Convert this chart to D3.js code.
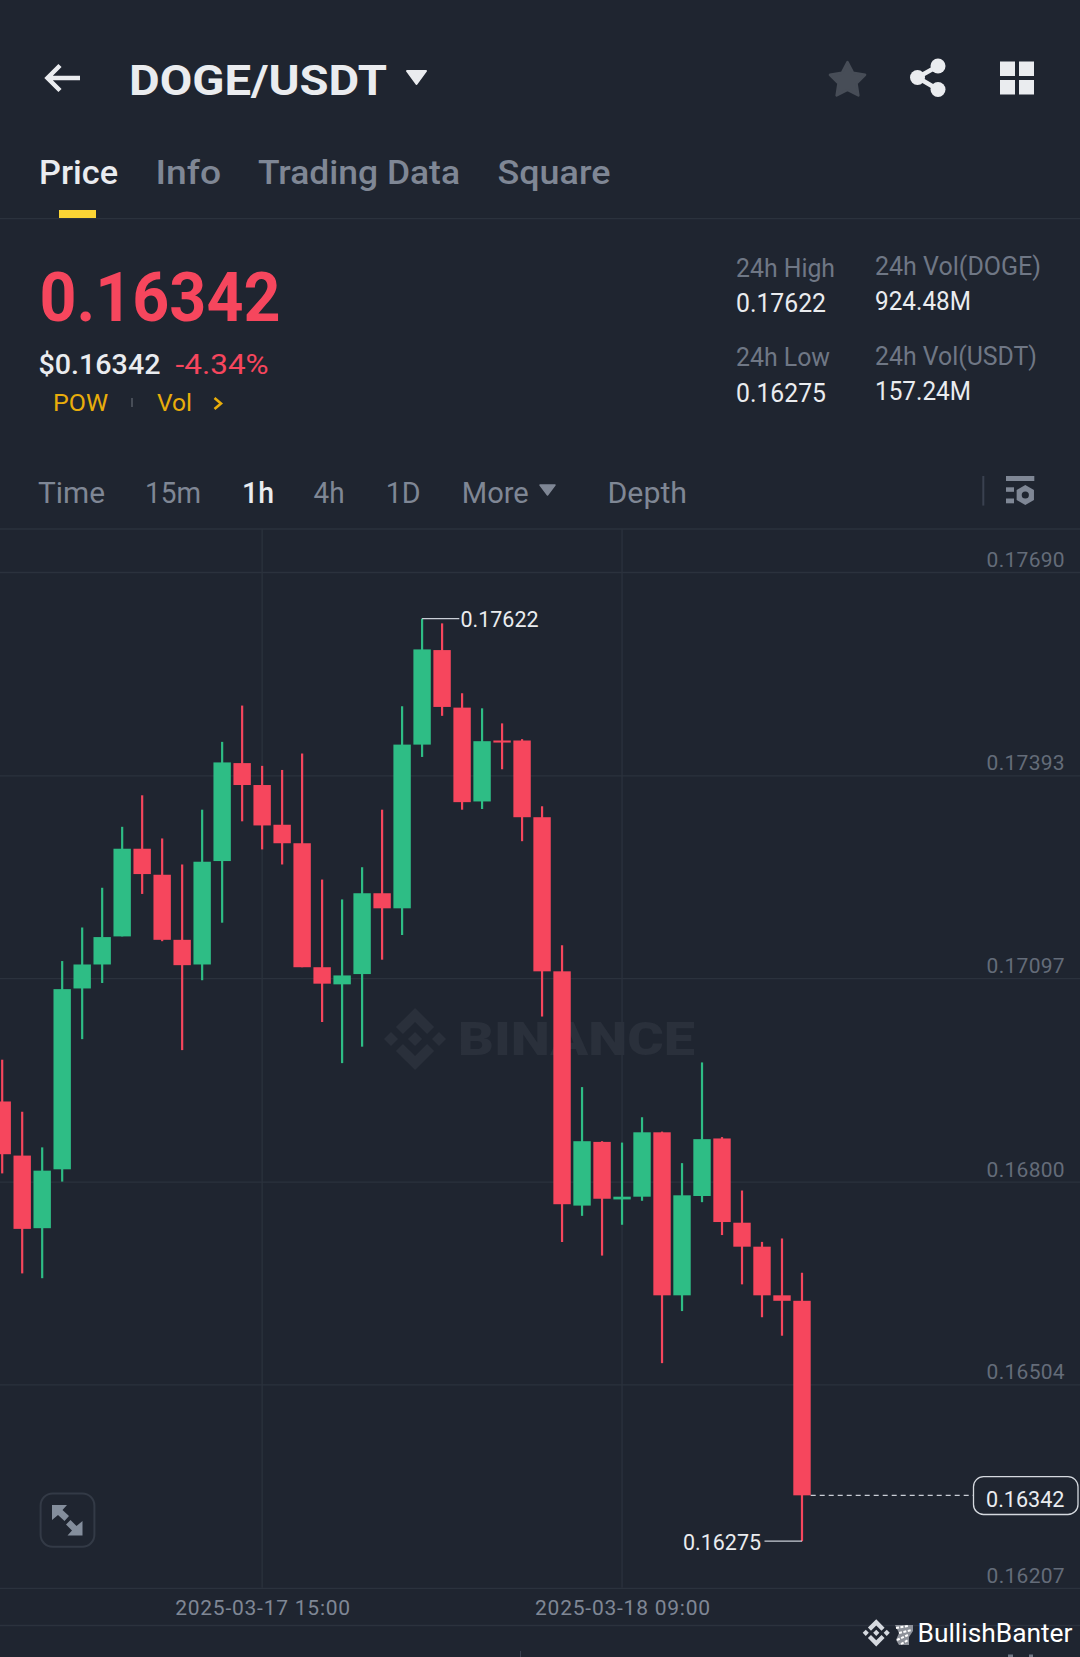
<!DOCTYPE html>
<html>
<head>
<meta charset="utf-8">
<script src="https://cdn.jsdelivr.net/npm/d3@7/dist/d3.min.js"></script>
<style>
  html, body { margin: 0; padding: 0; background: #1f2530; overflow: hidden; }
  svg { display: block; }
  text { font-family: Roboto, "Noto Sans", sans-serif; }
</style>
</head>
<body>
<div id="chart"></div>
<script>
// hourly candles, values
const firstCandle = "2025-03-17 02:00";
const opens = [0.16917,0.16838,0.16732,0.16818,0.17082,0.17117,0.17158,0.17286,0.17248,0.17153,0.17117,0.17268,0.17411,0.17379,0.17321,0.17294,0.17113,0.17088,0.17103,0.17221,0.17199,0.17438,0.17576,0.17492,0.17355,0.17444,0.17444,0.17332,0.17107,0.16765,0.16858,0.16774,0.16778,0.16872,0.16634,0.16779,0.16863,0.16740,0.16705,0.16634,0.16626];
const highs = [0.16978,0.16902,0.16850,0.17122,0.17171,0.17229,0.17318,0.17364,0.17301,0.17263,0.17343,0.17442,0.17495,0.17407,0.17401,0.17425,0.17241,0.17212,0.17259,0.17343,0.17494,0.17622,0.17615,0.17513,0.17491,0.17469,0.17446,0.17348,0.17145,0.16938,0.16859,0.16857,0.16894,0.16873,0.16827,0.16974,0.16865,0.16787,0.16712,0.16717,0.16667];
const lows = [0.16812,0.16666,0.16659,0.16800,0.17008,0.17090,0.17158,0.17220,0.17151,0.16992,0.17094,0.17178,0.17326,0.17285,0.17263,0.17113,0.17033,0.16973,0.16997,0.17124,0.17160,0.17420,0.17480,0.17343,0.17344,0.17402,0.17297,0.17041,0.16712,0.16750,0.16692,0.16737,0.16772,0.16535,0.16611,0.16770,0.16722,0.16650,0.16602,0.16575,0.16275];
const closes = [0.16840,0.16731,0.16816,0.17081,0.17117,0.17157,0.17286,0.17249,0.17153,0.17116,0.17267,0.17412,0.17379,0.17320,0.17294,0.17113,0.17089,0.17101,0.17221,0.17199,0.17438,0.17577,0.17493,0.17354,0.17443,0.17441,0.17332,0.17107,0.16767,0.16859,0.16775,0.16778,0.16872,0.16634,0.16780,0.16862,0.16741,0.16705,0.16634,0.16626,0.16342];

const priceTicks = [0.17690,0.17393,0.17097,0.16800,0.16504,0.16207];
const timeTicks = ["2025-03-17 15:00","2025-03-18 09:00"];
const lastPrice = 0.16342;
const highPrice = 0.17622;
const lowPrice = 0.16275;

const tabLabels = ["Price","Info","Trading Data","Square"];
const intervalLabels = ["Time","15m","1h","4h","1D","More","Depth"];

const width = 1080, height = 1657;
const bg = "#1f2530", gridColor = "#2b323d", up = "#2ebd85", down = "#f6465d";
const grey = "#848e9c", white = "#eaecef", gold = "#e8ad0b";

const parseTime = d3.timeParse("%Y-%m-%d %H:%M");
const formatTime = d3.timeFormat("%Y-%m-%d %H:%M");

const candles = opens.map((o, i) => ({
  time: d3.timeHour.offset(parseTime(firstCandle), i),
  open: o, high: highs[i], low: lows[i], close: closes[i]
}));

const x = d3.scaleTime()
  .domain([candles[0].time, candles[candles.length - 1].time])
  .range([2.2, 802]);
const y = d3.scaleLinear()
  .domain([priceTicks[0], priceTicks[priceTicks.length - 1]])
  .range([572, 1587.8]);

const svg = d3.select("#chart").append("svg")
  .attr("width", width).attr("height", height)
  .attr("viewBox", `0 0 ${width} ${height}`);

svg.append("rect").attr("width", width).attr("height", height).attr("fill", bg);

// small helper, textLength keeps the widths of the original font
function label(str, px, py, size, fill, weight, len) {
  const t = svg.append("text").attr("x", px).attr("y", py)
    .attr("font-size", size).attr("fill", fill).attr("font-weight", weight || 400)
    .text(str);
  if (len) t.attr("textLength", len).attr("lengthAdjust", "spacingAndGlyphs");
  return t;
}

// --- header ---
svg.append("path").attr("d", "M48 78H80M60 65.5L47.5 78L60 90.5")
  .attr("fill", "none").attr("stroke", white).attr("stroke-width", 4.5);
label("DOGE/USDT", 129, 94.5, 43, white, 700, 258);
svg.append("path").attr("d", "M407 71H426L416.5 84Z").attr("fill", white)
  .attr("stroke", white).attr("stroke-width", 2).attr("stroke-linejoin", "round");

// star is fatter than d3.symbolStar
const starPoints = d3.range(10).map(k => [Math.PI / 5 * k, k % 2 ? 9.5 : 18.5]);
svg.append("path").attr("transform", "translate(847.5,80.5)")
  .attr("d", d3.lineRadial().curve(d3.curveLinearClosed)(starPoints))
  .attr("fill", "#474d57").attr("stroke", "#474d57").attr("stroke-width", 2.5).attr("stroke-linejoin", "round");

const share = svg.append("g").attr("fill", white);
share.append("path").attr("d", "M938 66L917.5 77.5L938 89.5").attr("fill", "none")
  .attr("stroke", white).attr("stroke-width", 4.5);
[[938, 66, 7.5], [917.5, 77.5, 7.5], [938, 89.5, 7.5]].forEach(c => {
  share.append("circle").attr("cx", c[0]).attr("cy", c[1]).attr("r", c[2]);
});
const squares = [[1000, 61.5], [1019, 61.5], [1000, 80], [1019, 80]];
svg.append("g").selectAll("rect").data(squares).join("rect")
  .attr("x", d => d[0]).attr("y", d => d[1]).attr("width", 15).attr("height", 14.5)
  .attr("fill", white);

// tabs
const tabX = [39, 155.5, 258, 497.5], tabW = [79, 65.5, 202, 113];
tabLabels.forEach((t, i) => label(t, tabX[i], 183.5, 33, i === 0 ? white : "#7f8795", 500, tabW[i]));
svg.append("rect").attr("x", 59).attr("y", 210).attr("width", 37).attr("height", 8).attr("fill", "#fcd535");
svg.append("line").attr("x1", 0).attr("x2", width).attr("y1", 218.7).attr("y2", 218.7).attr("stroke", gridColor).attr("stroke-width", 1.3);

// price block
label("0.16342", 39.5, 321, 68, down, 700, 241);
label("$0.16342", 38.5, 374, 28, white, 500, 122);
label("-4.34%", 175.6, 374, 28, down, 400, 93);
label("POW", 53, 411.4, 24, gold, 400, 55);
svg.append("line").attr("x1", 132).attr("x2", 132).attr("y1", 398).attr("y2", 407).attr("stroke", "#474d57").attr("stroke-width", 2);
label("Vol", 157, 411.4, 24, gold, 400, 35);
svg.append("path").attr("d", "M214.5 398L221 403.5L214.5 409").attr("fill", "none").attr("stroke", gold).attr("stroke-width", 2.6);

// 24h stats
label("24h High", 736, 276.5, 25.5, "#6f7785", 400, 99);
label("0.17622", 736, 311.7, 25, white, 400, 90);
label("24h Vol(DOGE)", 875, 275, 25.5, "#6f7785", 400, 166);
label("924.48M", 875, 310, 25, white, 400, 96);
label("24h Low", 736, 366.3, 25.5, "#6f7785", 400, 94);
label("0.16275", 736, 401.6, 25, white, 400, 90);
label("24h Vol(USDT)", 875, 365, 25.5, "#6f7785", 400, 162);
label("157.24M", 875, 400, 25, white, 400, 96);

// interval row
const intervalX = [38, 145, 242, 313.5, 385.7, 461.8, 607.5];
const intervalW = [67, 56, 32, 31, 35, 67, 79.5];
intervalLabels.forEach((t, i) => label(t, intervalX[i], 502.7, 29.5, t === "1h" ? white : "#7f8795", t === "1h" ? 500 : 400, intervalW[i]));
svg.append("path").attr("d", "M540 485H555L547.5 495Z").attr("fill", "#7f8795")
  .attr("stroke", "#7f8795").attr("stroke-width", 1.5).attr("stroke-linejoin", "round");
svg.append("line").attr("x1", 983.3).attr("x2", 983.3).attr("y1", 476).attr("y2", 505.6).attr("stroke", "#3a4150").attr("stroke-width", 2);
const setting = svg.append("g").attr("fill", "#7f8795");
setting.append("rect").attr("x", 1006).attr("y", 476).attr("width", 28.3).attr("height", 5);
setting.append("rect").attr("x", 1006).attr("y", 487.3).attr("width", 8).attr("height", 4.5);
setting.append("rect").attr("x", 1006).attr("y", 498.5).attr("width", 8).attr("height", 4.8);
setting.append("path").attr("transform", "translate(1025.3,495)")
  .attr("d", d3.line().curve(d3.curveLinearClosed)(d3.range(6).map(k => {
    const a = Math.PI / 3 * k + Math.PI / 6;
    return [10 * Math.cos(a), 10 * Math.sin(a)];
  })));
setting.append("circle").attr("cx", 1025.3).attr("cy", 495).attr("r", 3.6).attr("fill", bg);

svg.append("line").attr("x1", 0).attr("x2", width).attr("y1", 529).attr("y2", 529).attr("stroke", gridColor).attr("stroke-width", 1.3);

// --- chart: grid and axes ---
const yAxis = d3.axisRight(y)
  .tickValues(priceTicks)
  .tickSize(width)
  .tickFormat(d3.format(".5f"));
const yG = svg.append("g").call(yAxis);
yG.select(".domain").remove();
yG.selectAll(".tick line").attr("stroke", gridColor).attr("stroke-width", 1.3);
yG.selectAll(".tick text")
  .attr("x", 986.6).attr("dy", -5.5)
  .attr("text-anchor", "start")
  .attr("font-family", "Roboto").attr("font-size", 21).attr("fill", "#646c79")
  .attr("textLength", 78).attr("lengthAdjust", "spacing")
  .attr("dominant-baseline", "auto");

const timeDates = timeTicks.map(parseTime);
svg.append("g").selectAll("line").data(timeDates).join("line")
  .attr("x1", d => x(d)).attr("x2", d => x(d))
  .attr("y1", 529).attr("y2", 1587.8)
  .attr("stroke", gridColor).attr("stroke-width", 1.3);

const xAxis = d3.axisBottom(x)
  .tickValues(timeDates)
  .tickSize(0)
  .tickPadding(0)
  .tickFormat(formatTime);
const xG = svg.append("g").attr("transform", "translate(0,1587.8)").call(xAxis);
xG.select(".domain").remove();
xG.selectAll(".tick text")
  .attr("y", 27.2).attr("dy", 0)
  .attr("font-family", "Roboto").attr("font-size", 21).attr("fill", "#7f8795")
  .attr("textLength", 175).attr("lengthAdjust", "spacing");
svg.append("line").attr("x1", 0).attr("x2", width).attr("y1", 1625.5).attr("y2", 1625.5).attr("stroke", gridColor).attr("stroke-width", 1.3);

// --- watermark ---
const logoPaths = [
  "M38.73 53.2l24.59-24.58 24.6 24.6 14.3-14.31L63.32 0 24.42 38.9l14.31 14.3z",
  "M0 63.31l14.3-14.31 14.31 14.31-14.31 14.3z",
  "M38.73 73.41l24.59 24.59 24.6-24.6 14.31 14.29-38.9 38.91-38.91-38.88-.02-.02 14.33-14.29z",
  "M98 63.31l14.3-14.3 14.31 14.3-14.31 14.31z",
  "M77.83 63.3L63.32 48.78 52.59 59.51l-1.24 1.23-2.54 2.54 14.51 14.5 14.51-14.47z"
];
svg.append("g").attr("transform", "translate(384,1008) scale(0.49)")
  .selectAll("path").data(logoPaths).join("path").attr("d", d => d).attr("fill", "#2a303b");
label("BINANCE", 458, 1055, 46, "#2a303b", 900, 237);

// --- candles ---
const bodyW = 17.4;
const candleG = svg.append("g").selectAll("g").data(candles).join("g");
candleG.append("line")
  .attr("x1", d => x(d.time)).attr("x2", d => x(d.time))
  .attr("y1", d => y(d.high)).attr("y2", d => y(d.low))
  .attr("stroke", d => d.close >= d.open ? up : down)
  .attr("stroke-width", 2.2);
candleG.append("rect")
  .attr("x", d => x(d.time) - bodyW / 2)
  .attr("width", bodyW)
  .attr("y", d => y(Math.max(d.open, d.close)))
  .attr("height", d => Math.abs(y(d.open) - y(d.close)))
  .attr("fill", d => d.close >= d.open ? up : down);

// --- high / low / last price marks ---
const lastCandle = candles[candles.length - 1];
const topCandle = candles[highs.indexOf(highPrice)];
svg.append("line").attr("x1", x(topCandle.time)).attr("x2", 459.3)
  .attr("y1", y(highPrice)).attr("y2", y(highPrice)).attr("stroke", "#c9ced6").attr("stroke-width", 1.3);
label(d3.format(".5f")(highPrice), 460.5, y(highPrice) + 8.7, 21.5, white, 400, 78);
svg.append("line").attr("x1", 764.5).attr("x2", x(lastCandle.time))
  .attr("y1", y(lowPrice)).attr("y2", y(lowPrice)).attr("stroke", "#c9ced6").attr("stroke-width", 1.3);
label(d3.format(".5f")(lowPrice), 683, y(lowPrice) + 8.5, 21.5, white, 400, 78);

svg.append("line").attr("x1", x(lastCandle.time) + bodyW / 2).attr("x2", 973.5)
  .attr("y1", y(lastPrice)).attr("y2", y(lastPrice))
  .attr("stroke", "#c9ced6").attr("stroke-width", 1.2).attr("stroke-dasharray", "5 4");
svg.append("rect").attr("x", 973.5).attr("y", 1476.7).attr("width", 104.5).attr("height", 37.8).attr("rx", 10)
  .attr("fill", bg).attr("stroke", "#d5d9df").attr("stroke-width", 1.3);
label(d3.format(".5f")(lastPrice), 986, 1507, 21.5, white, 400, 78.5);

// expand button
svg.append("rect").attr("x", 40.6).attr("y", 1493.5).attr("width", 53.8).attr("height", 53.2).attr("rx", 12)
  .attr("fill", "none").attr("stroke", "#333a46").attr("stroke-width", 2);
svg.append("path").attr("d", "M52 1505H67L62.5 1510L69 1516L64.5 1521L58 1515L52 1520Z").attr("fill", grey);
svg.append("path").attr("d", "M82.5 1535.5H67.5L72 1530.5L66 1524.5L70.5 1520L76.5 1526L82.5 1521Z").attr("fill", grey);

// bottom credit, mascot is a small noisy patch in the source
svg.append("g").attr("transform", "translate(862.7,1619.3) scale(0.214)")
  .selectAll("path").data(logoPaths).join("path").attr("d", d => d).attr("fill", "#d5d9df");
svg.append("path").attr("d", "M895 1625H913V1631L909 1637V1645H899L896 1640L899 1633Z")
  .attr("fill", "#8d9199");
svg.append("path").attr("d", "M896 1628L908 1626M899 1633L912 1630M897 1640L908 1635M901 1644L908 1640")
  .attr("fill", "none").attr("stroke", "#ffffff").attr("stroke-width", 2).attr("stroke-dasharray", "3 1.5");
label("BullishBanter", 917.5, 1642, 25, "#ffffff", 400, 155);

// cut off nav bar marks at the very bottom
svg.append("line").attr("x1", 520.5).attr("x2", 520.5).attr("y1", 1651).attr("y2", 1657).attr("stroke", "#3a4150");
svg.append("rect").attr("x", 1008).attr("y", 1654.5).attr("width", 5).attr("height", 2.5).attr("fill", "#6f7785");
svg.append("rect").attr("x", 1029).attr("y", 1654.5).attr("width", 4).attr("height", 2.5).attr("fill", "#6f7785");
</script>
</body>
</html>
